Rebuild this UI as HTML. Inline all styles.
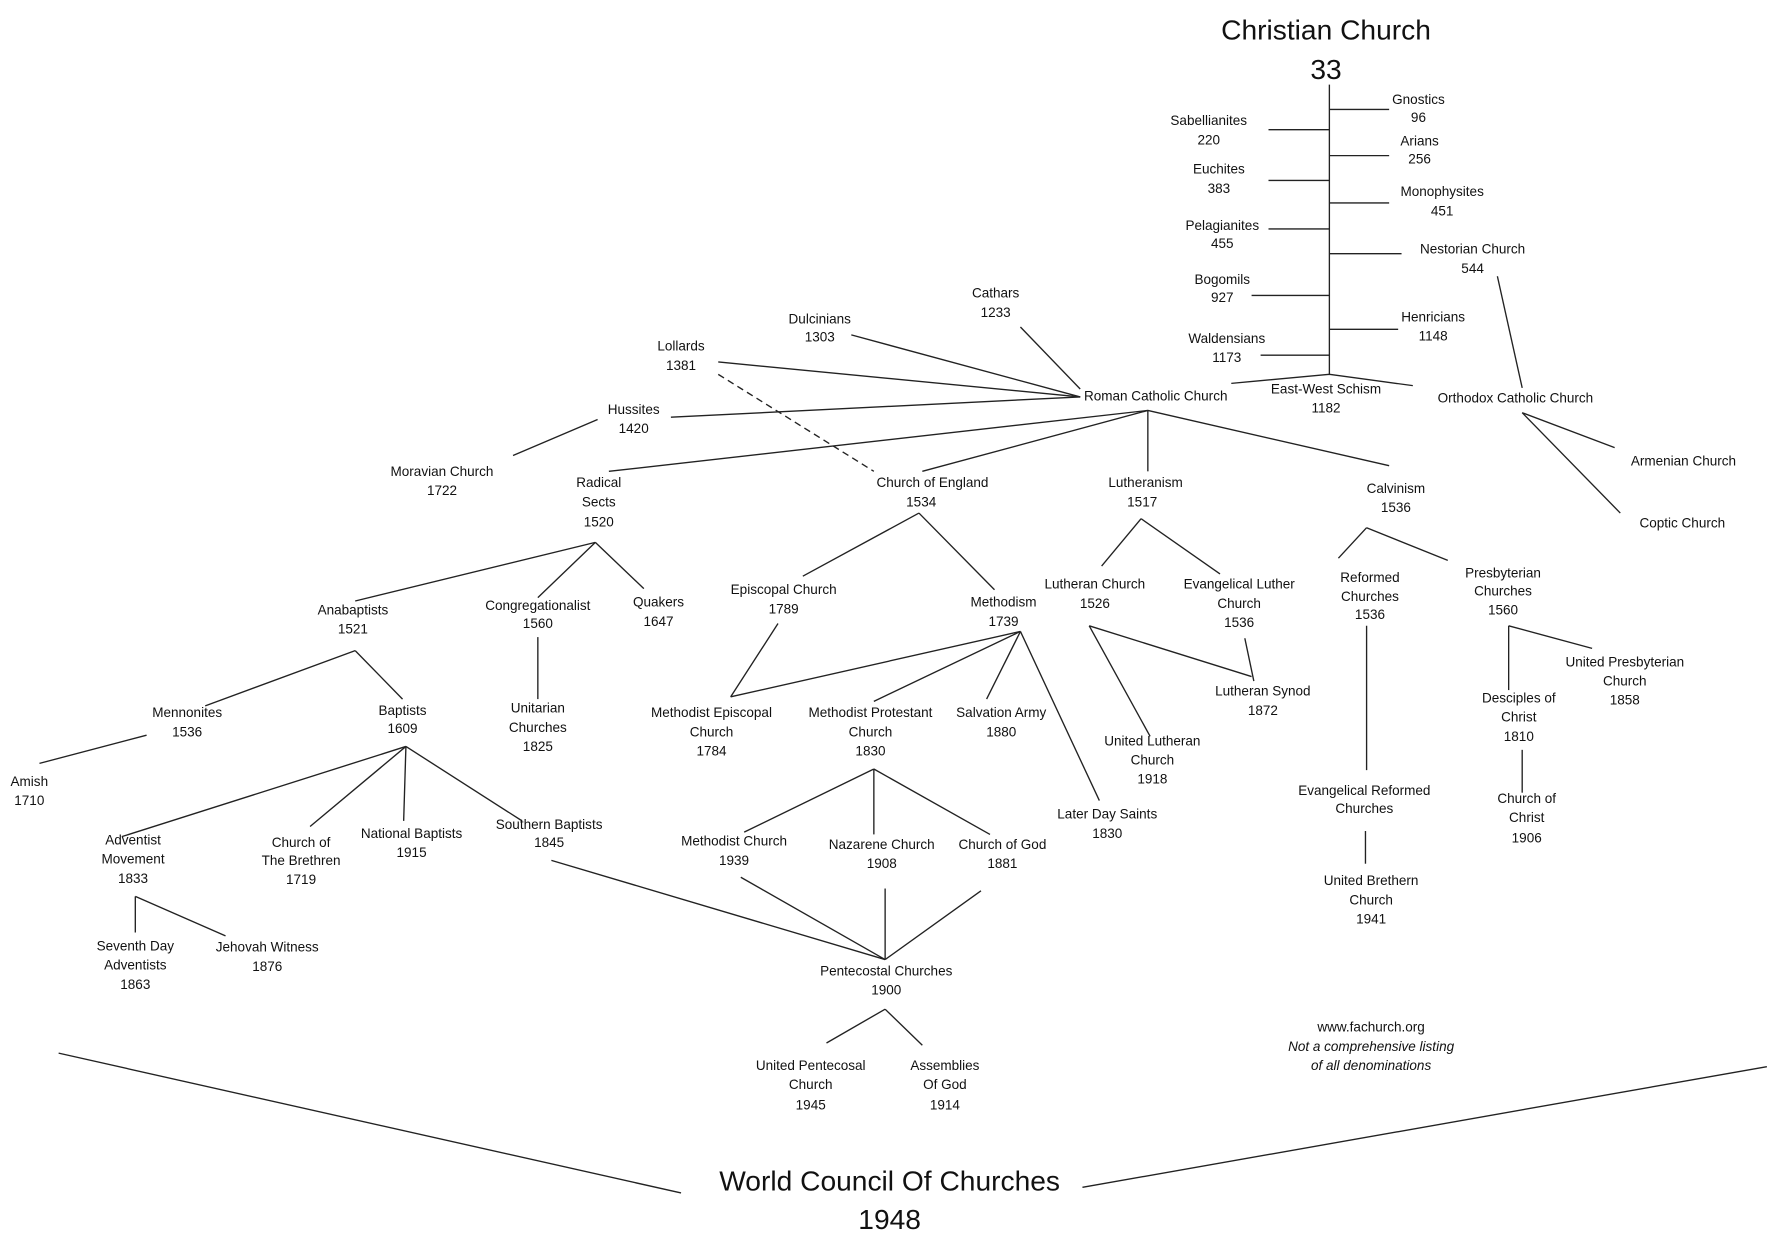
<!DOCTYPE html>
<html><head><meta charset="utf-8"><style>html,body{margin:0;padding:0;background:#fff}svg{display:block}</style></head>
<body>
<svg xmlns="http://www.w3.org/2000/svg" width="1768" height="1255" viewBox="0 0 1568 1113">
<rect width="1568" height="1113" fill="#fff"/>
<g stroke="#222" stroke-width="1.2" fill="none">
<line x1="1179" y1="75" x2="1179" y2="332"/>
<line x1="1179" y1="97" x2="1232" y2="97"/>
<line x1="1179" y1="138" x2="1232" y2="138"/>
<line x1="1179" y1="180" x2="1232" y2="180"/>
<line x1="1179" y1="225" x2="1243" y2="225"/>
<line x1="1179" y1="292" x2="1240" y2="292"/>
<line x1="1125" y1="115" x2="1179" y2="115"/>
<line x1="1125" y1="160" x2="1179" y2="160"/>
<line x1="1125" y1="203" x2="1179" y2="203"/>
<line x1="1110" y1="262" x2="1179" y2="262"/>
<line x1="1118" y1="315" x2="1179" y2="315"/>
<polyline points="1092,340 1179,332 1253,342"/>
<line x1="1328" y1="245" x2="1350" y2="344"/>
<line x1="1350" y1="366" x2="1432" y2="397"/>
<line x1="1350" y1="366" x2="1437" y2="455"/>
<line x1="905" y1="290" x2="958" y2="345"/>
<line x1="755" y1="297" x2="958" y2="352"/>
<line x1="637" y1="321" x2="958" y2="352"/>
<line x1="637" y1="332" x2="775" y2="418" stroke-dasharray="6,4"/>
<line x1="595" y1="370" x2="958" y2="352"/>
<line x1="530" y1="372" x2="455" y2="404"/>
<line x1="1018" y1="364" x2="540" y2="418"/>
<line x1="1018" y1="364" x2="818" y2="418"/>
<line x1="1018" y1="364" x2="1018" y2="418"/>
<line x1="1018" y1="364" x2="1232" y2="413"/>
<line x1="528" y1="481" x2="315" y2="533"/>
<line x1="528" y1="481" x2="477" y2="530"/>
<line x1="528" y1="481" x2="571" y2="522"/>
<line x1="477" y1="565" x2="477" y2="620"/>
<line x1="315" y1="577" x2="182" y2="626"/>
<line x1="315" y1="577" x2="357" y2="620"/>
<line x1="130" y1="652" x2="35" y2="677"/>
<line x1="360" y1="662" x2="108" y2="742"/>
<line x1="360" y1="662" x2="275" y2="733"/>
<line x1="360" y1="662" x2="358" y2="728"/>
<line x1="360" y1="662" x2="463" y2="728"/>
<line x1="120" y1="795" x2="120" y2="827"/>
<line x1="120" y1="795" x2="200" y2="830"/>
<line x1="489" y1="763" x2="785" y2="851"/>
<line x1="815" y1="455" x2="712" y2="511"/>
<line x1="815" y1="455" x2="882" y2="523"/>
<line x1="690" y1="553" x2="648" y2="618"/>
<line x1="905" y1="560" x2="648" y2="618"/>
<line x1="905" y1="560" x2="775" y2="622"/>
<line x1="905" y1="560" x2="875" y2="620"/>
<line x1="905" y1="560" x2="975" y2="710"/>
<line x1="775" y1="682" x2="660" y2="738"/>
<line x1="775" y1="682" x2="775" y2="740"/>
<line x1="775" y1="682" x2="878" y2="740"/>
<line x1="657" y1="778" x2="785" y2="851"/>
<line x1="785" y1="788" x2="785" y2="851"/>
<line x1="870" y1="790" x2="785" y2="851"/>
<line x1="785" y1="895" x2="733" y2="925"/>
<line x1="785" y1="895" x2="818" y2="927"/>
<line x1="1012" y1="460" x2="977" y2="502"/>
<line x1="1012" y1="460" x2="1082" y2="509"/>
<line x1="966" y1="555" x2="1020" y2="653"/>
<line x1="966" y1="555" x2="1110" y2="600"/>
<line x1="1104" y1="566" x2="1112" y2="604"/>
<line x1="1212" y1="468" x2="1187" y2="495"/>
<line x1="1212" y1="468" x2="1284" y2="497"/>
<line x1="1212" y1="555" x2="1212" y2="683"/>
<line x1="1211" y1="737" x2="1211" y2="766"/>
<line x1="1338" y1="555" x2="1338" y2="612"/>
<line x1="1338" y1="555" x2="1412" y2="575"/>
<line x1="1350" y1="665" x2="1350" y2="703"/>
<line x1="52" y1="934" x2="604" y2="1058"/>
<line x1="960" y1="1053" x2="1567" y2="946"/>
</g>
<g font-family="'Liberation Sans', sans-serif" font-size="12" fill="#111" text-anchor="middle">
<text x="1176" y="35" font-size="25">Christian Church</text>
<text x="1176" y="70" font-size="25">33</text>
<text x="1258" y="92">Gnostics</text><text x="1258" y="108">96</text>
<text x="1259" y="129">Arians</text><text x="1259" y="145">256</text>
<text x="1279" y="174">Monophysites</text><text x="1279" y="191">451</text>
<text x="1306" y="225">Nestorian Church</text><text x="1306" y="242">544</text>
<text x="1271" y="285">Henricians</text><text x="1271" y="302">1148</text>
<text x="1072" y="111">Sabellianites</text><text x="1072" y="128">220</text>
<text x="1081" y="154">Euchites</text><text x="1081" y="171">383</text>
<text x="1084" y="204">Pelagianites</text><text x="1084" y="220">455</text>
<text x="1084" y="252">Bogomils</text><text x="1084" y="268">927</text>
<text x="1088" y="304">Waldensians</text><text x="1088" y="321">1173</text>
<text x="1176" y="349">East-West Schism</text><text x="1176" y="366">1182</text>
<text x="1344" y="357">Orthodox Catholic Church</text>
<text x="1493" y="413">Armenian Church</text>
<text x="1492" y="468">Coptic Church</text>
<text x="1025" y="355">Roman Catholic Church</text>
<text x="883" y="264">Cathars</text><text x="883" y="281">1233</text>
<text x="727" y="287">Dulcinians</text><text x="727" y="303">1303</text>
<text x="604" y="311">Lollards</text><text x="604" y="328">1381</text>
<text x="562" y="367">Hussites</text><text x="562" y="384">1420</text>
<text x="392" y="422">Moravian Church</text><text x="392" y="439">1722</text>
<text x="531" y="432">Radical</text><text x="531" y="449">Sects</text><text x="531" y="467">1520</text>
<text x="827" y="432">Church of England</text><text x="817" y="449">1534</text>
<text x="1016" y="432">Lutheranism</text><text x="1013" y="449">1517</text>
<text x="1238" y="437">Calvinism</text><text x="1238" y="454">1536</text>
<text x="313" y="545">Anabaptists</text><text x="313" y="562">1521</text>
<text x="477" y="541">Congregationalist</text><text x="477" y="557">1560</text>
<text x="584" y="538">Quakers</text><text x="584" y="555">1647</text>
<text x="477" y="632">Unitarian</text><text x="477" y="649">Churches</text><text x="477" y="666">1825</text>
<text x="166" y="636">Mennonites</text><text x="166" y="653">1536</text>
<text x="357" y="634">Baptists</text><text x="357" y="650">1609</text>
<text x="26" y="697">Amish</text><text x="26" y="714">1710</text>
<text x="118" y="749">Adventist</text><text x="118" y="766">Movement</text><text x="118" y="783">1833</text>
<text x="267" y="751">Church of</text><text x="267" y="767">The Brethren</text><text x="267" y="784">1719</text>
<text x="365" y="743">National Baptists</text><text x="365" y="760">1915</text>
<text x="487" y="735">Southern Baptists</text><text x="487" y="751">1845</text>
<text x="120" y="843">Seventh Day</text><text x="120" y="860">Adventists</text><text x="120" y="877">1863</text>
<text x="237" y="844">Jehovah Witness</text><text x="237" y="861">1876</text>
<text x="695" y="527">Episcopal Church</text><text x="695" y="544">1789</text>
<text x="890" y="538">Methodism</text><text x="890" y="555">1739</text>
<text x="631" y="636">Methodist Episcopal</text><text x="631" y="653">Church</text><text x="631" y="670">1784</text>
<text x="772" y="636">Methodist Protestant</text><text x="772" y="653">Church</text><text x="772" y="670">1830</text>
<text x="888" y="636">Salvation Army</text><text x="888" y="653">1880</text>
<text x="982" y="726">Later Day Saints</text><text x="982" y="743">1830</text>
<text x="651" y="750">Methodist Church</text><text x="651" y="767">1939</text>
<text x="782" y="753">Nazarene Church</text><text x="782" y="770">1908</text>
<text x="889" y="753">Church of God</text><text x="889" y="770">1881</text>
<text x="786" y="865">Pentecostal Churches</text><text x="786" y="882">1900</text>
<text x="719" y="949">United Pentecosal</text><text x="719" y="966">Church</text><text x="719" y="984">1945</text>
<text x="838" y="949">Assemblies</text><text x="838" y="966">Of God</text><text x="838" y="984">1914</text>
<text x="971" y="522">Lutheran Church</text><text x="971" y="539">1526</text>
<text x="1099" y="522">Evangelical Luther</text><text x="1099" y="539">Church</text><text x="1099" y="556">1536</text>
<text x="1120" y="617">Lutheran Synod</text><text x="1120" y="634">1872</text>
<text x="1022" y="661">United Lutheran</text><text x="1022" y="678">Church</text><text x="1022" y="695">1918</text>
<text x="1215" y="516">Reformed</text><text x="1215" y="533">Churches</text><text x="1215" y="549">1536</text>
<text x="1333" y="512">Presbyterian</text><text x="1333" y="528">Churches</text><text x="1333" y="545">1560</text>
<text x="1210" y="705">Evangelical Reformed</text><text x="1210" y="721">Churches</text>
<text x="1216" y="785">United Brethern</text><text x="1216" y="802">Church</text><text x="1216" y="819">1941</text>
<text x="1347" y="623">Desciples of</text><text x="1347" y="640">Christ</text><text x="1347" y="657">1810</text>
<text x="1441" y="591">United Presbyterian</text><text x="1441" y="608">Church</text><text x="1441" y="625">1858</text>
<text x="1354" y="712">Church of</text><text x="1354" y="729">Christ</text><text x="1354" y="747">1906</text>
<text x="1216" y="915">www.fachurch.org</text>
<text x="1216" y="932" font-style="italic">Not a comprehensive listing</text>
<text x="1216" y="949" font-style="italic">of all denominations</text>
<text x="789" y="1056" font-size="25">World Council Of Churches</text>
<text x="789" y="1090" font-size="25">1948</text>
</g>
</svg>
</body></html>
